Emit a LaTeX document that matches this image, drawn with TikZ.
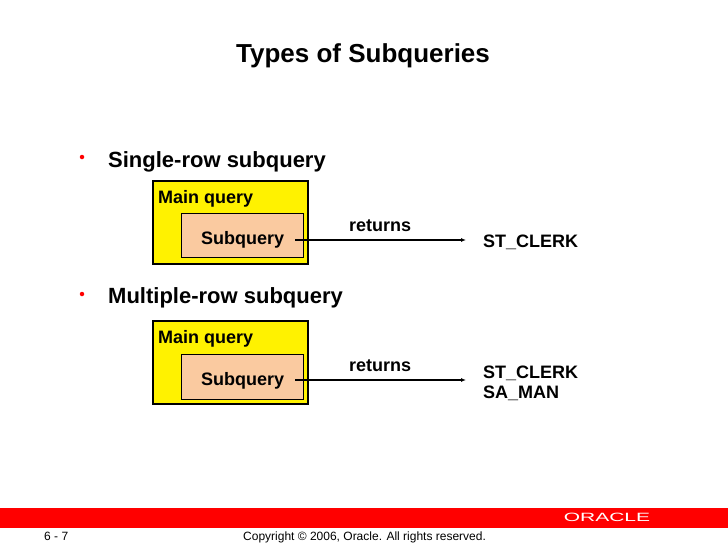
\documentclass[tikz,border=0pt]{standalone}
\usepackage{fontspec}
\setmainfont{Liberation Sans}
\usetikzlibrary{arrows.meta}
\definecolor{peach}{RGB}{250,202,160}
\definecolor{oraclered}{RGB}{255,0,0}
\tikzset{
  txt/.style={inner sep=0pt, anchor=base west, font=\fontsize{18}{21}\selectfont\bfseries},
  bullettxt/.style={inner sep=0pt, anchor=base west, font=\fontsize{22}{26}\selectfont\bfseries},
  outerbox/.style={draw=black, line width=1.6pt, fill=yellow, anchor=north west, minimum width=155pt, minimum height=83pt, inner sep=0pt},
  innerbox/.style={draw=black, line width=1.4pt, fill=peach, anchor=north west, minimum width=122pt, minimum height=44pt, inner sep=0pt},
  arr/.style={line width=1.3pt, -{Latex[length=5pt,width=4pt]}},
  dot/.style={circle, fill=oraclered, inner sep=0pt, minimum size=4.5pt},
  foot/.style={inner sep=0pt, anchor=base west, font=\fontsize{12}{14}\selectfont}
}
\begin{document}
\begin{tikzpicture}[x=1pt,y=-1pt]
\useasboundingbox (0,0) rectangle (728,546);
\fill[white] (0,0) rectangle (728,546);
% title
\node[inner sep=0pt, anchor=base, font=\fontsize{26}{30}\selectfont\bfseries] (title) at (363,62) {Types of Subqueries};
% bullet 1
\node[dot] (d1) at (82,157) {};
\node[bullettxt] (b1) at (108,167) {Single-row subquery};
\node[outerbox] (box1) at (152,180) {};
\node[innerbox] (in1) at (181,213) {};
\node[txt] (main1) at (158,203) {Main query};
\node[txt] (sub1) at (201,244.5) {Subquery};
\node[txt] (ret1) at (349,231) {returns};
\node[txt] (clerk1) at (483,247) {ST\_CLERK};
\coordinate (s1) at (295,240);
\coordinate (e1) at (466,240);
\draw[arr] (s1) -- (e1);
% bullet 2
\node[dot] (d2) at (82,294) {};
\node[bullettxt] (b2) at (108,303) {Multiple-row subquery};
\node[outerbox] (box2) at (152,320) {};
\node[innerbox, minimum height=45pt] (in2) at (181,354) {};
\node[txt] (main2) at (158,343) {Main query};
\node[txt] (sub2) at (201,385) {Subquery};
\node[txt] (ret2) at (349,371) {returns};
\node[txt] (clerk2) at (483,378) {ST\_CLERK};
\node[txt] (man2) at (483,398) {SA\_MAN};
\coordinate (s2) at (295,380);
\coordinate (e2) at (466,380);
\draw[arr] (s2) -- (e2);
% footer
\fill[oraclered] (0,508) rectangle (728,528);
\node[inner sep=0pt, anchor=center, text=white, font=\fontsize{12}{14}\selectfont] (logo) at (607,517.5) {\scalebox{1.75}[1]{ORACLE}};
\node[foot] (page) at (44,540) {6 - 7};
\node[foot] (copy) at (243,540) {Copyright © 2006, Oracle. All rights reserved.};
\end{tikzpicture}
\end{document}
